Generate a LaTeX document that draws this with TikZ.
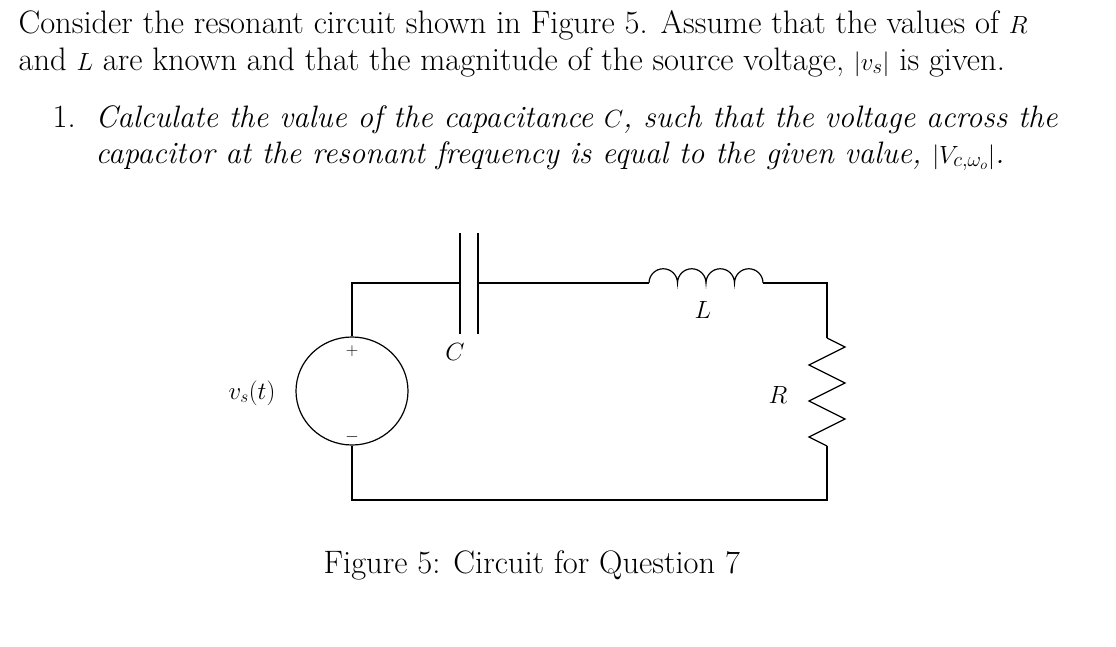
\documentclass[tikz,border=0pt]{standalone}
\usetikzlibrary{shapes.geometric}
\begin{document}
\begin{tikzpicture}[x=1pt,y=-1pt,line width=1.2pt,
  big/.style={anchor=base west,inner sep=0pt,font=\fontsize{32.5}{38}\selectfont},
  ital/.style={anchor=base west,inner sep=0pt,font=\fontsize{31}{36}\selectfont\itshape},
  lab/.style={inner sep=0pt,font=\fontsize{26}{30}\selectfont}]
\useasboundingbox (0,0) rectangle (1116,646);
\node[big] (l1) at (18,33) {Consider the resonant circuit shown in Figure 5. Assume that the values of $R$};
\node[big] (l2) at (18,70) {and $L$ are known and that the magnitude of the source voltage, $|v_s|$ is given.};
\node[big] (n1) at (52,127) {1.};
\node[ital] (l3) at (95,127) {Calculate the value of the capacitance $C$, such that the voltage across the};
\node[ital] (l4) at (95,163) {capacitor at the resonant frequency is equal to the given value, $|V_{c,\omega_o}|$.};
\node[big] (cap) at (323,573) {Figure 5: Circuit for Question 7};
% circuit
\node[draw,ellipse,minimum width=112pt,minimum height=108pt,inner sep=0pt] (src) at (352,391) {};
\coordinate (tl) at (352,283);
\coordinate (bl) at (352,500);
\coordinate (tr) at (827,283);
\coordinate (br) at (827,500);
\coordinate (c1) at (460,283);
\coordinate (c2) at (478,283);
\coordinate (i1) at (649,283);
\coordinate (i2) at (763,283);
\coordinate (r1) at (827,338);
\coordinate (r2) at (827,446);
\draw (src.north) -- (tl) -- (c1);
\draw (c1 |- 0,233) -- (c1 |- 0,334);
\draw (c2 |- 0,233) -- (c2 |- 0,334);
\draw (c2) -- (i1);
\draw (i1) foreach \k in {0,1,2,3} {arc[start angle=180,end angle=0,radius=14.25pt]} -- (i2);
\draw (i2) -- (tr) -- (r1);
\draw (r1) -- ++(18,9) -- ++(-36,18) -- ++(36,18) -- ++(-36,18) -- ++(36,18) -- ++(-36,18) -- ++(18,9) -- (r2);
\draw (r2) -- (br) -- (bl) -- (src.south);
\node[lab,font=\fontsize{18}{20}\selectfont] (plus) at (352,351) {$+$};
\node[lab,font=\fontsize{18}{20}\selectfont] (minus) at (352,437) {$-$};
\node[lab] (vs) at (252,393) {$v_s(t)$};
\node[lab] (C) at (455,352) {$C$};
\node[lab] (L) at (703,310) {$L$};
\node[lab] (R) at (778,395) {$R$};
\end{tikzpicture}
\end{document}
